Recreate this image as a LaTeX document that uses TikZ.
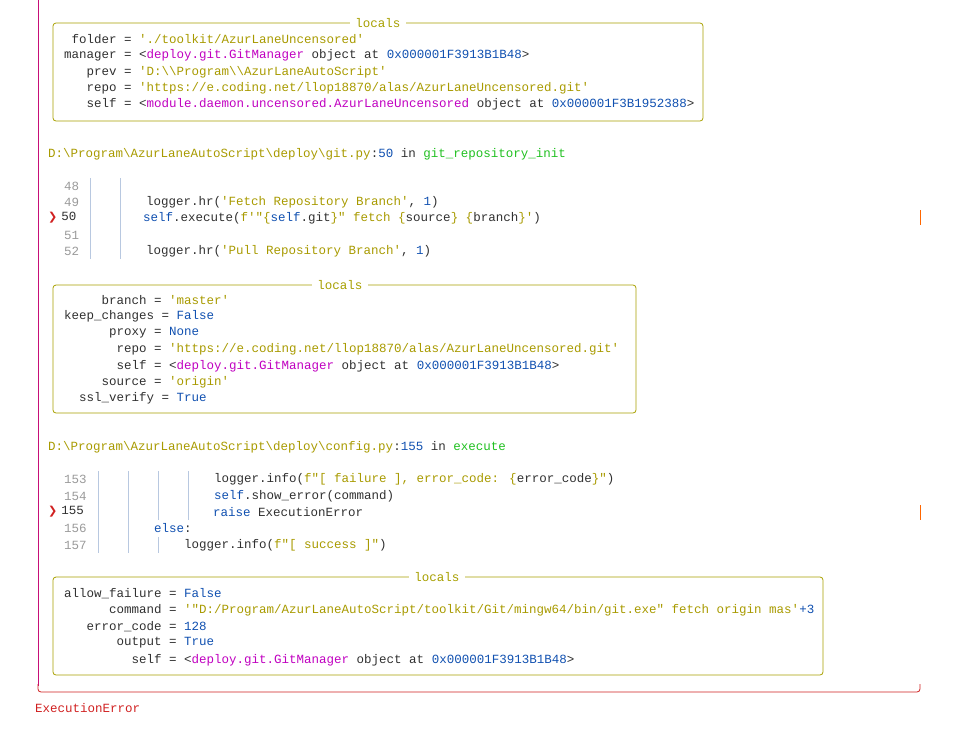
\documentclass[tikz,border=0pt]{standalone}
\usepackage{fontspec}
\newfontfamily\code{Liberation Mono}[Scale=1]
\newfontfamily\symf{DejaVu Sans}
\definecolor{olive}{HTML}{A8A000}
\definecolor{strc}{HTML}{A89A00}
\definecolor{numc}{HTML}{1050B0}
\definecolor{clsc}{HTML}{C000C0}
\definecolor{fnc}{HTML}{20C020}
\definecolor{grc}{HTML}{9A9A9A}
\definecolor{redc}{HTML}{D02020}
\definecolor{txtc}{HTML}{303030}
\definecolor{guide}{HTML}{B8C8E0}
\newcommand\Str[1]{\textcolor{strc}{#1}}
\newcommand\Num[1]{\textcolor{numc}{#1}}
\newcommand\Cls[1]{\textcolor{clsc}{#1}}
\newcommand\Fn[1]{\textcolor{fnc}{#1}}
\newcommand\Gry[1]{\textcolor{grc}{#1}}
\newcommand\bs{\textbackslash}
\newcommand\lnmark{\textcolor{redc}{\symf\fontsize{11}{13}\selectfont ❯}}
\begin{document}
\begin{tikzpicture}[x=1pt,y=-1pt,
  every node/.style={font=\code\fontsize{12.5}{15}\selectfont,text=txtc,inner sep=0pt},
  ln/.style={anchor=west},
  lbox/.style={draw=olive,rounded corners=3pt,line width=0.8pt},
  ttl/.style={fill=white,inner xsep=5pt,text=olive},
  gl/.style={draw=guide,line width=0.8pt}]
\useasboundingbox (0,0) rectangle (954,729);
% outer frame
\draw[line width=0.8pt,draw=clsc!55!redc] (38,-5) -- (38,686);
\draw[line width=0.8pt,draw=redc,rounded corners=3pt] (38,684) -- (38,692) -- (920,692) -- (920,684);
\draw[line width=0.8pt,draw=orange!80!red] (920,210) -- (920,225) (920,505) -- (920,520);
% box 1
\draw[lbox] (53,23) rectangle (703,121);
\node[ttl] (t1) at (378,23) {locals};
\node[ln] (a1) at (64,39) {~folder = \Str{'./toolkit/AzurLaneUncensored'}};
\node[ln] (a2) at (64,55) {manager = <\Cls{deploy.git.GitManager} object at \Num{0x000001F3913B1B48}>};
\node[ln] (a3) at (64,72) {~~~prev = \Str{'D:\bs\bs Program\bs\bs AzurLaneAutoScript'}};
\node[ln] (a4) at (64,88) {~~~repo = \Str{'https://e.coding.net/llop18870/alas/AzurLaneUncensored.git'}};
\node[ln] (a5) at (64,104) {~~~self = <\Cls{module.daemon.uncensored.AzurLaneUncensored} object at \Num{0x000001F3B1952388}>};
% header 1
\node[ln] (h1) at (48,154) {\Str{D:\bs Program\bs AzurLaneAutoScript\bs deploy\bs git.py}:\Num{50} in \Fn{git\_repository\_init}};
% code 1
\draw[gl] (90,178) -- (90,259) (120,178) -- (120,259);
\node[ln] (n48) at (64,186) {\Gry{48}};
\node[ln] (n49) at (64,202) {\Gry{49}};
\node[ln] (n50) at (48,218) {\lnmark\hspace{4pt}50};
\node[ln] (n51) at (64,235) {\Gry{51}};
\node[ln] (n52) at (64,251) {\Gry{52}};
\node[ln] (c49) at (146,202) {logger.hr(\Str{'Fetch Repository Branch'}, \Num{1})};
\node[ln] (c50) at (143,218) {\Num{self}.execute(\Str{f'"\{}\Num{self}.git\Str{\}" fetch \{}source\Str{\} \{}branch\Str{\}'})};
\node[ln] (c52) at (146,251) {logger.hr(\Str{'Pull Repository Branch'}, \Num{1})};
% box 2
\draw[lbox] (53,285) rectangle (636,413);
\node[ttl] (t2) at (340,285) {locals};
\node[ln] (b1) at (64,300) {~~~~~branch = \Str{'master'}};
\node[ln] (b2) at (64,316) {keep\_changes = \Num{False}};
\node[ln] (b3) at (64,333) {~~~~~~proxy = \Num{None}};
\node[ln] (b4) at (64,349) {~~~~~~~repo = \Str{'https://e.coding.net/llop18870/alas/AzurLaneUncensored.git'}};
\node[ln] (b5) at (64,366) {~~~~~~~self = <\Cls{deploy.git.GitManager} object at \Num{0x000001F3913B1B48}>};
\node[ln] (b6) at (64,382) {~~~~~source = \Str{'origin'}};
\node[ln] (b7) at (64,398) {~~ssl\_verify = \Num{True}};
% header 2
\node[ln] (h2) at (48,447) {\Str{D:\bs Program\bs AzurLaneAutoScript\bs deploy\bs config.py}:\Num{155} in \Fn{execute}};
% code 2
\draw[gl] (98,471) -- (98,553) (128,471) -- (128,553) (158,471) -- (158,520) (188,471) -- (188,520) (158,537) -- (158,553);
\node[ln] (m153) at (64,479) {\Gry{153}};
\node[ln] (m154) at (64,496) {\Gry{154}};
\node[ln] (m155) at (48,512) {\lnmark\hspace{4pt}155};
\node[ln] (m156) at (64,528) {\Gry{156}};
\node[ln] (m157) at (64,545) {\Gry{157}};
\node[ln] (d153) at (214,479) {logger.info(\Str{f"[ failure ], error\_code: \{}error\_code\Str{\}"})};
\node[ln] (d154) at (214,496) {\Num{self}.show\_error(command)};
\node[ln] (d155) at (213,512) {\Num{raise} ExecutionError};
\node[ln] (d156) at (154,528) {\Num{else}:};
\node[ln] (d157) at (184,545) {logger.info(\Str{f"[ success ]"})};
% box 3
\draw[lbox] (53,577) rectangle (823,675);
\node[ttl] (t3) at (437,577) {locals};
\node[ln] (e1) at (64,594) {allow\_failure = \Num{False}};
\node[ln] (e2) at (64,610) {~~~~~~command = \Str{'"D:/Program/AzurLaneAutoScript/toolkit/Git/mingw64/bin/git.exe" fetch origin mas'}\Num{+3}};
\node[ln] (e3) at (64,627) {~~~error\_code = \Num{128}};
\node[ln] (e4) at (64,643) {~~~~~~~output = \Num{True}};
\node[ln] (e5) at (64,660) {~~~~~~~~~self = <\Cls{deploy.git.GitManager} object at \Num{0x000001F3913B1B48}>};
% final error
\node[ln] (err) at (35,708) {\textcolor{redc}{ExecutionError}};
\end{tikzpicture}
\end{document}
